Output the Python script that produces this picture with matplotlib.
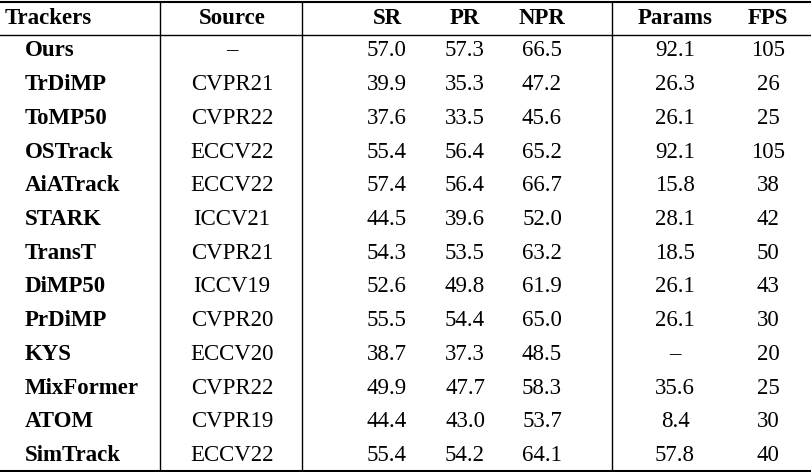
import matplotlib.pyplot as plt

plt.rcParams["font.family"] = ["Liberation Serif", "DejaVu Serif"]

headers = ["Trackers", "Source", "SR", "PR", "NPR", "Params", "FPS"]
trackers = ["Ours", "TrDiMP", "ToMP50", "OSTrack", "AiATrack", "STARK", "TransT",
            "DiMP50", "PrDiMP", "KYS", "MixFormer", "ATOM", "SimTrack"]
sources = ["–", "CVPR21", "CVPR22", "ECCV22", "ECCV22", "ICCV21", "CVPR21",
           "ICCV19", "CVPR20", "ECCV20", "CVPR22", "CVPR19", "ECCV22"]
sr = ["57.0", "39.9", "37.6", "55.4", "57.4", "44.5", "54.3", "52.6", "55.5", "38.7", "49.9", "44.4", "55.4"]
pr = ["57.3", "35.3", "33.5", "56.4", "56.4", "39.6", "53.5", "49.8", "54.4", "37.3", "47.7", "43.0", "54.2"]
npr = ["66.5", "47.2", "45.6", "65.2", "66.7", "52.0", "63.2", "61.9", "65.0", "48.5", "58.3", "53.7", "64.1"]
params = ["92.1", "26.3", "26.1", "92.1", "15.8", "28.1", "18.5", "26.1", "26.1", "–", "35.6", "8.4", "57.8"]
fps = ["105", "26", "25", "105", "38", "42", "50", "43", "30", "20", "25", "30", "40"]

col_x = [25, 232, 387, 465, 542, 675, 768]
header_y = 18
row0_y = 51
row_h = 33.7
fs = 16.5

fig = plt.figure(figsize=(8.11, 4.72), dpi=100)
ax = fig.add_axes([0, 0, 1, 1])
ax.set_xlim(0, 811)
ax.set_ylim(472, 0)
ax.axis("off")

for i, h in enumerate(headers):
    ax.text(5 if i == 0 else col_x[i], header_y, h, ha="left" if i == 0 else "center",
            va="center", fontsize=fs, fontweight="bold")

columns = [sources, sr, pr, npr, params, fps]
for r, name in enumerate(trackers):
    y = row0_y + r * row_h
    ax.text(col_x[0], y, name, ha="left", va="center", fontsize=fs, fontweight="bold")
    for c, col in enumerate(columns, start=1):
        ax.text(col_x[c], y, col[r], ha="center", va="center", fontsize=fs)

# rules
for y, lw in [(1.5, 1.5), (35, 1.0), (470.5, 1.5)]:
    ax.plot([0, 811], [y, y], color="black", lw=lw)
for x in [160, 302, 612]:
    ax.plot([x, x], [1.5, 470.5], color="black", lw=1.0)

fig.savefig("out.png", dpi=100)
